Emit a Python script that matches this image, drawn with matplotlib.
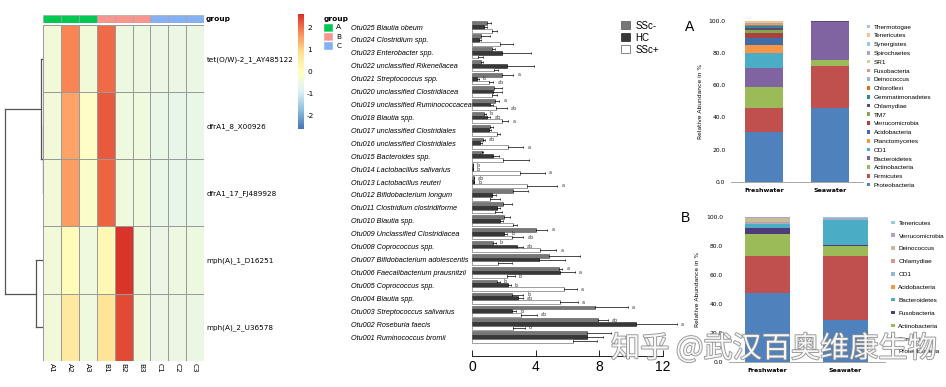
import numpy as np
import matplotlib
matplotlib.use("Agg")
import matplotlib.pyplot as plt
from matplotlib.colors import LinearSegmentedColormap
from matplotlib.patches import Patch
import matplotlib.patheffects as pe

plt.rcParams["axes.unicode_minus"] = False
W, H = 946, 387


def box(x0, y0, x1, y1):
    # pixel box (top-left origin) -> figure fraction rect
    return [x0 / W, 1 - y1 / H, (x1 - x0) / W, (y1 - y0) / H]


# ---------------- heatmap data ----------------
genes = ["tet(O/W)-2_1_AY485122", "dfrA1_8_X00926", "dfrA1_17_FJ489928",
         "mph(A)_1_D16251", "mph(A)_2_U36578"]
samples = ["A1", "A2", "A3", "B1", "B2", "B3", "C1", "C2", "C3"]
groups = ["A", "A", "A", "B", "B", "B", "C", "C", "C"]
group_colors = {"A": "#00C853", "B": "#F8958E", "C": "#85B1F2"}
zscores = [
    [-0.40, 1.80, -0.40, 2.05, -0.50, -0.50, -0.55, -0.55, -0.55],
    [-0.40, 1.50, -0.10, 2.20, -0.45, -0.45, -0.60, -0.65, -0.60],
    [-0.40, 1.55, -0.15, 2.10, -0.45, -0.45, -0.60, -0.65, -0.60],
    [-0.40, 0.10, -0.45, 0.20, 2.55, -0.45, -0.55, -0.50, -0.50],
    [-0.40, 0.60, -0.45, 0.75, 2.35, -0.45, -0.55, -0.55, -0.55],
]
# row dendrogram merges: (child, child, height)
merges = [(1, 2, 0.3), (0, 5, 2.6), (3, 4, 7.3), (6, 7, 38.0)]

# ---------------- bar chart data ----------------
otus = ["Otu025 Blautia obeum", "Otu024 Clostridium spp.", "Otu023 Enterobacter spp.",
        "Otu022 unclassified Rikenellacea", "Otu021 Streptococcus spp.",
        "Otu020 unclassified Clostridiacea", "Otu019 unclassified Ruminococcacea",
        "Otu018 Blautia spp.", "Otu017 unclassified Clostridiales",
        "Otu016 unclassified Clostridiales", "Otu015 Bacteroides spp.",
        "Otu014 Lactobacillus salivarius", "Otu013 Lactobacillus reuteri",
        "Otu012 Bifidobacterium longum", "Otu011 Clostridium clostridiforme",
        "Otu010 Blautia spp.", "Otu009 Unclassified Clostridiacea",
        "Otu008 Coprococcus spp.", "Otu007 Bifidobacterium adolescentis",
        "Otu006 Faecalibacterium prausnitzii", "Otu005 Coprococcus spp.",
        "Otu004 Blautia spp.", "Otu003 Streptococcus salivarius",
        "Otu002 Roseburia faecis", "Otu001 Ruminococcus bromii"]
ssc_neg = [0.92, 0.55, 1.24, 0.55, 1.91, 1.38, 1.45, 0.75, 1.13, 0.67, 0.60, 0.05, 0.10,
           2.60, 1.97, 2.01, 4.03, 1.34, 4.86, 5.49, 1.55, 2.50, 7.74, 7.95, 7.25]
ssc_neg_err = [0.27, 0.58, 0.20, 0.15, 0.69, 0.49, 0.27, 0.10, 0.20, 0.15, 0.10, 0.0, 0.0,
               0.94, 0.53, 0.38, 0.71, 0.15, 1.93, 0.20, 0.20, 0.73, 2.09, 0.60, 1.53]
hc = [0.75, 0.44, 1.91, 2.22, 0.29, 1.30, 1.13, 0.96, 1.05, 0.50, 1.34, 0.05, 0.10,
      1.24, 1.55, 1.76, 2.01, 2.81, 4.23, 5.53, 2.29, 2.91, 2.50, 10.30, 7.25]
hc_err = [0.20, 0.10, 1.80, 1.68, 0.15, 0.57, 0.20, 0.20, 0.15, 0.10, 0.38, 0.0, 0.05,
          0.27, 0.20, 0.20, 0.20, 0.40, 1.62, 0.95, 0.15, 0.30, 0.30, 2.60, 1.00]
ssc_pos = [1.24, 1.76, 0.40, 1.40, 1.09, 1.24, 1.50, 1.87, 1.59, 2.29, 1.97, 3.02, 3.48,
           1.13, 1.45, 2.56, 2.50, 4.28, 1.66, 2.18, 5.79, 5.53, 3.06, 2.56, 6.33]
ssc_pos_err = [0.35, 0.80, 0.30, 0.25, 0.25, 0.31, 0.68, 0.42, 0.15, 0.94, 1.63, 1.58, 1.89,
               0.63, 0.42, 0.29, 0.73, 1.04, 0.84, 0.52, 0.79, 1.16, 1.04, 0.77, 1.51]
let_neg = ["", "", "", "", "a", "", "a", "b", "", "ab", "", "b", "ab",
           "", "", "", "a", "b", "", "a", "b", "b", "a", "ab", ""]
let_hc = ["", "", "", "", "b", "", "", "ab", "", "", "", "b", "b",
          "", "", "", "b", "ab", "", "a", "b", "ab", "b", "a", ""]
let_pos = ["", "", "", "", "ab", "", "ab", "a", "", "a", "", "a", "a",
           "", "", "", "ab", "a", "", "b", "a", "a", "ab", "b", ""]

# ---------------- stacked bar data ----------------
sites = ["Freshwater", "Seawater"]
phyla_a = ["Proteobacteria", "Firmicutes", "Actinobacteria", "Bacteroidetes", "OD1",
           "Planctomycetes", "Acidobacteria", "Verrucomicrobia", "TM7", "Chlamydiae",
           "Gemmatimonadetes", "Chloroflexi", "Deinococcus", "Fusobacteria", "SR1",
           "Spirochaetes", "Synergistes", "Tenericutes", "Thermotogae"]
fresh_a = [30.8, 15.3, 12.6, 11.8, 9.3, 4.9, 4.3, 3.1, 2.3, 1.0,
           1.2, 0.6, 1.0, 0.5, 0.3, 0.3, 0.2, 0.4, 0.1]
sea_a = [45.7, 26.2, 3.7, 23.4, 0.1, 0.1, 0.1, 0.1, 0.1, 0.1,
         0.1, 0.1, 0.1, 0.1, 0.05, 0.05, 0.05, 0.05, 0.05]
colors_a = ["#4F81BD", "#C0504D", "#9BBB59", "#8064A2", "#4BACC6", "#F79646",
            "#3E6DAA", "#A9423F", "#86A64A", "#5C4776", "#31859C", "#E46C0A",
            "#95B3D7", "#D99694", "#C3D69B", "#B3A2C7", "#93CDDD", "#FAC090", "#A6C4E6"]
phyla_b = ["Proteobacteria", "Firmicutes", "Actinobacteria", "Fusobacteria",
           "Bacteroidetes", "Acidobacteria", "OD1", "Chlamydiae", "Deinococcus",
           "Verrucomicrobia", "Tenericutes"]
fresh_b = [47.8, 25.2, 14.9, 4.1, 3.0, 0.3, 0.3, 0.8, 2.6, 0.5, 0.5]
sea_b = [29.1, 44.1, 6.9, 0.3, 17.3, 0.2, 0.3, 0.2, 0.2, 0.2, 1.2]
colors_b = ["#4F81BD", "#C0504D", "#9BBB59", "#4D3B7A", "#4BACC6", "#F79646",
            "#95B3D7", "#D99694", "#C4BD97", "#B3A2C7", "#93CDDD"]

fig = plt.figure(figsize=(W / 100, H / 100), dpi=100)

# ---------------- heatmap ----------------
cmap = LinearSegmentedColormap.from_list(
    "pheat", ["#4575B4", "#91BFDB", "#E0F3F8", "#FFFFBF", "#FEE090", "#FC8D59", "#D73027"])
ax_h = fig.add_axes(box(43.3, 25, 204, 360.7))
mesh = ax_h.pcolormesh(np.array(zscores), cmap=cmap, vmin=-2.6, vmax=2.6,
                       edgecolors="#9A9A9A", linewidth=0.7)
ax_h.set_xlim(0, len(samples))
ax_h.set_ylim(len(genes), 0)
ax_h.set_xticks(np.arange(len(samples)) + 0.5)
ax_h.set_xticklabels(samples, rotation=270, fontsize=5.3)
ax_h.set_yticks(np.arange(len(genes)) + 0.5)
ax_h.set_yticklabels(genes, fontsize=5.2)
ax_h.yaxis.tick_right()
ax_h.tick_params(length=0, pad=2)
for s in ax_h.spines.values():
    s.set_visible(False)

ax_g = fig.add_axes(box(43.3, 14.7, 204, 22.7))
for i, g in enumerate(groups):
    ax_g.bar(i + 0.5, 1, width=1, color=group_colors[g], edgecolor="#A0A0A0", linewidth=0.4)
ax_g.set_xlim(0, len(samples))
ax_g.set_ylim(0, 1)
ax_g.axis("off")
ax_g.text(1.01, 0.5, "group", transform=ax_g.transAxes, fontsize=5.3,
          fontweight="bold", va="center")

# dendrogram
ax_d = fig.add_axes(box(4, 25, 43.3, 360.7))
pos = {i: i + 0.5 for i in range(len(genes))}
hgt = {i: 0.0 for i in range(len(genes))}
for k, (a, b, h) in enumerate(merges):
    for c in (a, b):
        ax_d.plot([hgt[c], h], [pos[c], pos[c]], color="#555555", lw=0.9)
    ax_d.plot([h, h], [pos[a], pos[b]], color="#555555", lw=0.9)
    nid = len(genes) + k
    pos[nid] = (pos[a] + pos[b]) / 2
    hgt[nid] = h
ax_d.set_xlim(39.3, 0)
ax_d.set_ylim(len(genes), 0)
ax_d.axis("off")

# colorbar
cax = fig.add_axes(box(297.7, 14, 304.3, 129))
cb = fig.colorbar(mesh, cax=cax, ticks=[-2, -1, 0, 1, 2])
cb.outline.set_visible(False)
cax.tick_params(length=0, labelsize=5.3, pad=2)

grp_handles = [Patch(facecolor=group_colors[g], edgecolor="white") for g in ["A", "B", "C"]]
fig.legend(grp_handles, ["A", "B", "C"], loc="upper left",
           bbox_to_anchor=(318 / W, 1 - 11 / H), frameon=False, fontsize=5.3,
           title="group", title_fontproperties={"weight": "bold", "size": 5.3},
           alignment="left", handlelength=1.4, handleheight=1.5,
           labelspacing=0.05, handletextpad=0.4, borderpad=0.2)

# ---------------- horizontal bar chart ----------------
ax_b = fig.add_axes(box(472, 15, 688, 356))
n = len(otus)
y = np.arange(n)[::-1]
bh = 0.29
series = [
    (ssc_neg, ssc_neg_err, let_neg, bh, "#777777", "#555555"),
    (hc, hc_err, let_hc, 0, "#383838", "#222222"),
    (ssc_pos, ssc_pos_err, let_pos, -bh, "white", "#555555"),
]
for vals, errs, lets, off, fc, ec in series:
    ax_b.barh(y + off, vals, height=bh, color=fc, edgecolor=ec, linewidth=0.4)
    ax_b.errorbar(vals, y + off, xerr=[np.zeros(n), errs], fmt="none",
                  ecolor="black", elinewidth=0.5, capsize=1, capthick=0.5)
    for v, e, yy, l in zip(vals, errs, y + off, lets):
        if l:
            ax_b.text(v + e + 0.25, yy, l, fontsize=3.5, va="center", color="#333333")
ax_b.set_xlim(0, 13.6)
ax_b.set_ylim(-1.47, n - 1 + 0.93)
ax_b.set_xticks([0, 4, 8, 12])
ax_b.set_xticklabels(["0", "4", "8", "12"], fontsize=10, family="Liberation Sans")
ax_b.tick_params(axis="x", direction="in", length=4, width=0.6, pad=3)
ax_b.set_yticks(y)
ax_b.set_yticklabels(otus, fontsize=5.2, style="italic", family="Liberation Sans")
for lbl in ax_b.get_yticklabels():
    lbl.set_horizontalalignment("left")
ax_b.tick_params(axis="y", length=0, pad=87)
for s in ["left", "top", "right"]:
    ax_b.spines[s].set_visible(False)
ax_b.spines["bottom"].set_bounds(0, 12)
ax_b.spines["bottom"].set_linewidth(0.6)

bar_handles = [Patch(facecolor="#777777", edgecolor="#555555", linewidth=0.5),
               Patch(facecolor="#383838", edgecolor="#222222", linewidth=0.5),
               Patch(facecolor="white", edgecolor="#555555", linewidth=0.5)]
fig.legend(bar_handles, ["SSc-", "HC", "SSc+"], loc="upper left",
           bbox_to_anchor=(612 / W, 1 - 12 / H), frameon=False,
           prop={"family": "Liberation Sans", "size": 7},
           handlelength=0.9, handleheight=0.9, labelspacing=0.2, handletextpad=0.6)


# ---------------- stacked bars ----------------
def stacked(rect, phyla, fresh, sea, colors, spacing, anchor_x):
    ax = fig.add_axes(rect)
    x = np.arange(len(sites))
    bottom = np.zeros(len(sites))
    handles = []
    for name, f, s, c in zip(phyla, fresh, sea, colors):
        vals = np.array([f, s])
        handles.append(ax.bar(x, vals, width=0.58, bottom=bottom, color=c, label=name))
        bottom += vals
    ax.set_xlim(-0.5, 1.5)
    ax.set_ylim(0, 100)
    ax.set_yticks(np.arange(0, 101, 20))
    ax.set_yticklabels([f"{v:.1f}" for v in range(0, 101, 20)], fontsize=4.3)
    ax.set_xticks(x)
    ax.set_xticklabels(sites, fontsize=4.5, fontweight="bold")
    ax.tick_params(length=0, pad=4)
    for s in ["left", "top", "right"]:
        ax.spines[s].set_visible(False)
    ax.spines["bottom"].set_color("#999999")
    ax.spines["bottom"].set_linewidth(0.6)
    ax.set_ylabel("Relative Abundance in %", fontsize=4.3, labelpad=4)
    ax.legend(handles[::-1], phyla[::-1], loc="upper left", bbox_to_anchor=(anchor_x, 1.0),
              frameon=False, prop={"family": "Liberation Sans", "size": 4.6},
              handlelength=0.5, handleheight=0.5,
              labelspacing=spacing, handletextpad=0.6, borderpad=0.1)
    return ax


stacked(box(731, 20.7, 863, 182), phyla_a, fresh_a, sea_a, colors_a, 0.58, 1.0)
stacked(box(728.5, 216.7, 884.5, 362.3), phyla_b, fresh_b, sea_b, colors_b, 1.22, 1.02)

fig.text(690 / W, 1 - 27 / H, "A", fontsize=10, ha="center", va="center",
         family="Liberation Sans")
fig.text(685 / W, 1 - 218 / H, "B", fontsize=10, ha="center", va="center",
         family="Liberation Sans")

# watermark
fig.text(611 / W, 1 - 349 / H, "知乎 @武汉百奥维康生物", fontsize=21,
         family=["Noto Sans CJK SC", "DejaVu Sans"], color="white", alpha=0.9,
         va="center", ha="left",
         path_effects=[pe.withStroke(linewidth=1.3, foreground="#8C8C8C")])

fig.savefig("out.png", dpi=100)
